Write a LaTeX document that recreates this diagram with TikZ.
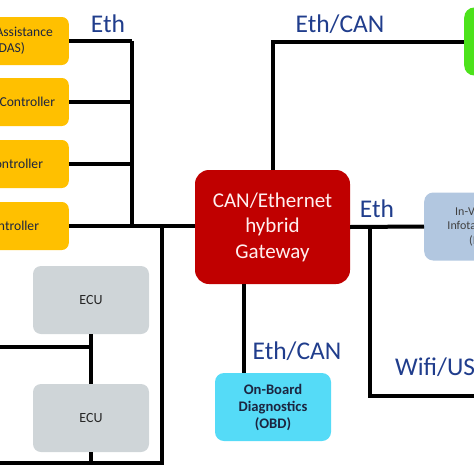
\documentclass[tikz,border=0pt]{standalone}
\usepackage{fontspec}
\setmainfont{Carlito}
\usepackage{xcolor}
\usetikzlibrary{positioning}
\definecolor{AmberECU}{HTML}{FFC000}
\definecolor{AshGrey}{HTML}{CFD5D8}
\definecolor{GatewayRed}{HTML}{C00000}
\definecolor{LinkGreen}{HTML}{4CE21B}
\definecolor{SteelMist}{HTML}{B2C7E0}
\definecolor{DiagCyan}{HTML}{55DBF7}
\definecolor{BusBlue}{HTML}{203D8C}
\definecolor{InkNavy}{HTML}{1C2540}

\begin{document}
\begin{tikzpicture}[
      x=1pt, y=-1pt,
      every node/.style={align=center, inner sep=0pt},
      ctrlbox/.style={fill=AmberECU, rounded corners=7pt, minimum height=48pt, anchor=east, text=InkNavy, font=\fontsize{13.6}{16.5}\selectfont},
      ecu/.style={fill=AshGrey, rounded corners=8pt, minimum width=116pt, minimum height=68pt, text=black!85, font=\fontsize{14}{16}\selectfont},
      gateway/.style={fill=GatewayRed, rounded corners=14pt, minimum width=155pt, minimum height=114pt, text=red!6, font=\fontsize{21}{25.5}\selectfont},
      device/.style={rounded corners=9pt, minimum width=116pt, minimum height=68pt},
      bus/.style={line width=4pt, black},
      proto/.style={text=BusBlue, font=\fontsize{25.5}{30}\selectfont, anchor=base}
    ]
      \useasboundingbox (0,0) rectangle (474,474);
      \clip (0,0) rectangle (474,474);

      % Domain controllers
      \node[ctrlbox, minimum width=126pt] (adas) at (69,41) {Driver Assistance\\(ADAS)};
      \node[ctrlbox, minimum width=83pt] (powertrain) at (69,102) {Controller};
      \node[ctrlbox, minimum width=107pt] (body) at (69,164) {Controller};
      \node[ctrlbox, minimum width=115pt] (chassis) at (69,226) {Controller};

      % Gateway and peripherals
      \node[gateway] (gateway) at (272.5,227) {CAN/Ethernet\\hybrid\\Gateway};
      \node[device, fill=LinkGreen, rounded corners=10pt, anchor=west] (tcu) at (464,41.5) {};
      \node[device, fill=SteelMist, anchor=west, minimum width=110pt, text=black!75, font=\fontsize{12}{14.5}\selectfont] (ivi) at (424,226.5) {In-Vehicle\\Infotainment\\(IVI)};
      \node[device, fill=DiagCyan, text=InkNavy, font=\bfseries\fontsize{14.6}{17}\selectfont] (obd) at (273,407) {On-Board\\Diagnostics\\(OBD)};

      % ECUs
      \node[ecu] (ecuA) at (91,300) {ECU};
      \node[ecu] (ecuB) at (91,418) {ECU};

      \coordinate (ethbus) at (132,0);
      \coordinate (canbus) at (162,0);
      \coordinate (canend) at (-5,463);
      \coordinate (ecuend) at (-5,347);
      \coordinate (wifitap) at (370,0);
      \coordinate (wifiend) at (480,396);
      \coordinate (diagtap) at (244,0);

      % Ethernet backbone
      \draw[bus] (adas.east) -- (adas.east -| ethbus);
      \draw[bus] (powertrain.east) -- (powertrain.east -| ethbus);
      \draw[bus] (body.east) -- (body.east -| ethbus);
      \draw[bus] (adas.east -| ethbus) -- (chassis.east -| ethbus) -- (gateway.west |- chassis.east);
      \draw[bus] (chassis.east) -- (chassis.east -| ethbus);

      % CAN side
      \draw[bus] (chassis.east -| canbus) -- (canend -| canbus) -- (canend);
      \draw[bus] (ecuA.south) -- (ecuB.north);
      \draw[bus] (ecuend) -- (ecuend -| ecuA.south);
      \draw[bus] (ecuB.south) -- (ecuB.south |- canend);

      % Gateway links
      \draw[bus] (gateway.north) |- (tcu.west);
      \draw[bus] (gateway.east) -- (ivi.west);
      \draw[bus] (gateway.east -| wifitap) |- (wifiend);
      \draw[bus] (gateway.south -| diagtap) -- (obd.north -| diagtap);

      % Labels
      \node[proto] (ethleft) at (108,32) {Eth};
      \node[proto] (ethcantop) at (340,32) {Eth/CAN};
      \node[proto] (ethright) at (377,217) {Eth};
      \node[proto] (ethcanobd) at (297,359) {Eth/CAN};
      \node[proto, anchor=base west] (wifiusb) at (395,375) {Wifi/USB};

    \end{tikzpicture}
\end{document}
